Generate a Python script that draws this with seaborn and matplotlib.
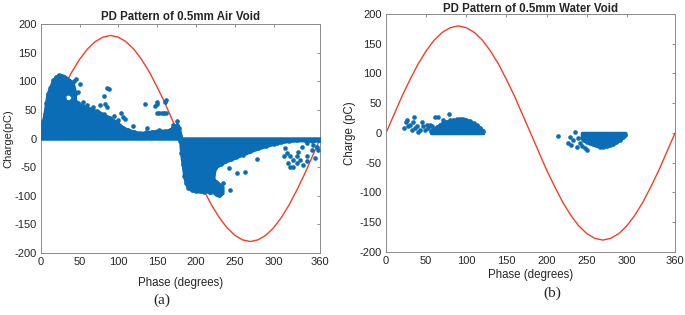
import matplotlib
matplotlib.use('Agg')
import matplotlib.pyplot as plt
import seaborn as sns

sns.set_style('white')
plt.rcParams['font.family'] = ['Liberation Sans', 'DejaVu Sans']
plt.rcParams['axes.unicode_minus'] = False

BLUE = '#0a6db5'
RED = '#f0402a'

# reference voltage sine (read every 10 degrees)
sine_phase = [0, 10, 20, 30, 40, 50, 60, 70, 80, 90, 100, 110, 120, 130, 140, 150, 160, 170, 180,
              190, 200, 210, 220, 230, 240, 250, 260, 270, 280, 290, 300, 310, 320, 330, 340, 350, 360]
sine_charge = [0, 31, 62, 90, 116, 138, 156, 169, 177, 180, 177, 169, 156, 138, 116, 90, 62, 31, 0,
               -31, -62, -90, -116, -138, -156, -169, -177, -180, -177, -169, -156, -138, -116, -90, -62, -31, 0]

# (a) air void: dense cloud outlines (positive half, from 0 up to top)
a_pos_phase = [0, 1, 3, 5, 7, 9, 12, 16, 20, 23, 26, 28, 31, 35, 39, 42, 44, 48, 55, 64, 72, 81, 89, 98,
               106, 112, 120, 128, 136, 144, 152, 160, 166, 171, 175, 178, 180]
a_pos_top = [15, 23, 30, 42, 62, 78, 88, 102, 108, 111, 110, 100, 66, 64, 66, 70, 66, 62, 56, 51, 48, 42, 36, 28,
             19, 15, 12, 9, 11, 12, 14, 13, 15, 20, 24, 18, 5]
# upper part of the positive peak (above the small gap)
a_cap_phase = [27, 30, 34, 38, 41, 44]
a_cap_low = [70, 76, 79, 78, 74, 66]
a_cap_top = [110, 109, 105, 101, 97, 82]
# negative half, from 0 down to low
a_neg_phase = [180, 181, 183, 185, 187, 190, 195, 200, 205, 210, 215, 219, 222, 224, 228, 232, 238, 245,
               252, 260, 270, 280, 290, 300, 310, 320, 330, 340, 350, 360]
a_neg_low = [-5, -25, -45, -65, -78, -86, -90, -92, -92, -93, -90, -85, -70, -52, -47, -44, -40, -36,
             -32, -28, -22, -17, -13, -9, -6, -4, -3, -3, -4, -3]
a_blob_phase = [214, 218, 222, 226, 230, 234]
a_blob_low = [-92, -95, -93, -98, -100, -95]
a_blob_top = [-65, -68, -72, -75, -80, -84]
# (a) scattered pulses
a_pts_phase = [46, 48.5, 46, 55, 76, 83, 85, 82, 86, 88, 104, 106.5, 108.7, 119, 134, 137, 149.5, 147,
               150, 160, 162, 150, 153, 156, 159, 162, 171, 175, 50, 43, 60, 68, 94, 100,
               229, 234.5, 244, 242, 252.6, 263, 278, 304, 317, 321, 325.6, 330, 334, 338.5, 343, 349,
               353.5, 358, 355.7, 351, 319, 325.6, 332, 336, 342.5, 313, 315, 321, 330, 343, 357.8]
a_pts_charge = [104, 82, 79, 63, 58, 61, 55, 75, 89, 86, 44, 38, 34, 21, 61, 18, 61, 57,
                64, 64, 67, 45, 45, 45, 45, 45, 24, 30, 95, 100, 58, 55, 40, 32,
                -81, -78, -90, -52, -60, -58, -36, -8, -26, -31, -37, -31, -37, -46, -31, -20,
                -34, -2, -14, -11, -43, -49, -23, -14, -8, -31, -17, -49, -43, -40, -20]

# (b) water void: dense clusters
b_pos_phase = [56, 59, 63, 67, 71, 75, 80, 84, 88, 92, 96, 100, 104, 109, 113, 117, 121]
b_pos_top = [3, 6, 10, 14, 17, 19, 21, 22, 23, 24, 23, 22, 20, 16, 13, 9, 3]
b_neg_phase = [244, 246, 250, 254, 258, 262, 266, 270, 275, 279, 283, 287, 291, 295, 298]
b_neg_low = [-8, -12, -15, -17, -19, -21, -23, -23, -22, -20, -18, -15, -11, -7, -3]
b_pts_phase = [23, 25.7, 25, 30, 28, 32, 34, 35, 36, 38, 40, 42, 44.4, 46.5, 48.6, 50.7, 52.7, 55, 57,
               61, 65, 71.4, 79,
               214.7, 227, 229, 231, 233, 235.5, 237.5, 239.6, 241.7, 243.8, 248, 250]
b_pts_charge = [8, 22, 19, 14, 11, 5, 19, 26.6, 8, 12, 2.5, 5, 19, 11, 5, 14, 8, 12.6, 11,
                26.6, 27.7, 22, 32,
                -5, -17, -6, -20, -11, 1, -22.7, -8.6, -17, -21.5, -25, -28]

fig = plt.figure(figsize=(6.85, 3.15), dpi=100)
ax_a = fig.add_axes([0.0594, 0.1968, 0.408, 0.727])
ax_b = fig.add_axes([0.5635, 0.2000, 0.422, 0.7556])


def band(ax, x, lo, hi):
    ax.fill_between(x, lo, hi, color=BLUE, lw=2.5, edgecolor=BLUE, zorder=3)


def dots(ax, x, y):
    sns.scatterplot(x=x, y=y, ax=ax, color=BLUE, s=11, linewidth=0, zorder=4, legend=False)


# panel a
sns.lineplot(x=sine_phase, y=sine_charge, ax=ax_a, color=RED, lw=1, zorder=2)
band(ax_a, a_pos_phase, [0] * len(a_pos_phase), a_pos_top)
band(ax_a, a_cap_phase, a_cap_low, a_cap_top)
band(ax_a, a_neg_phase, a_neg_low, [0] * len(a_neg_phase))
band(ax_a, a_blob_phase, a_blob_low, a_blob_top)
dots(ax_a, a_pos_phase, a_pos_top)
dots(ax_a, a_neg_phase, a_neg_low)
dots(ax_a, a_pts_phase, a_pts_charge)

# panel b
sns.lineplot(x=sine_phase, y=sine_charge, ax=ax_b, color=RED, lw=1, zorder=2)
band(ax_b, b_pos_phase, [0] * len(b_pos_phase), b_pos_top)
band(ax_b, b_neg_phase, b_neg_low, [0] * len(b_neg_phase))
dots(ax_b, b_pos_phase, b_pos_top)
dots(ax_b, b_neg_phase, b_neg_low)
dots(ax_b, b_pts_phase, b_pts_charge)

for ax in (ax_a, ax_b):
    ax.set_xlim(0, 360)
    ax.set_ylim(-200, 200)
    ax.set_xticks([0, 50, 100, 150, 200, 250, 300, 360])
    ax.set_yticks(range(-200, 201, 50))
    ax.tick_params(direction='in', length=2.5, width=0.6, top=True, right=True,
                   labelsize=8, colors='#7f7f7f', labelcolor='#262626', pad=3)
    for s in ax.spines.values():
        s.set_color('#8a8a8a')
        s.set_linewidth(0.7)

ax_a.set_title('PD Pattern of 0.5mm Air Void', fontsize=8.3, fontweight='bold', color='#262626', pad=3)
ax_b.set_title('PD Pattern of 0.5mm Water Void', fontsize=8.3, fontweight='bold', color='#262626', pad=1.5)
ax_a.set_xlabel('Phase (degrees)', fontsize=8.3, color='#262626')
ax_b.set_xlabel('Phase (degrees)', fontsize=8.3, color='#262626')
ax_a.set_ylabel('Charge(pC)', fontsize=8, color='#262626')
ax_b.set_ylabel('Charge (pC)', fontsize=8.3, color='#262626')
ax_a.xaxis.set_label_coords(0.5, -0.105)
ax_b.xaxis.set_label_coords(0.5, -0.072)
ax_a.yaxis.set_label_coords(-0.098, 0.5)
ax_b.yaxis.set_label_coords(-0.105, 0.5)

fig.text(162 / 685, 1 - 300 / 315, '(a)', ha='center', va='center', fontsize=11,
         family=['Liberation Serif', 'DejaVu Serif'])
fig.text(552 / 685, 1 - 293 / 315, '(b)', ha='center', va='center', fontsize=11,
         family=['Liberation Serif', 'DejaVu Serif'])

fig.savefig('out.png', dpi=100)
